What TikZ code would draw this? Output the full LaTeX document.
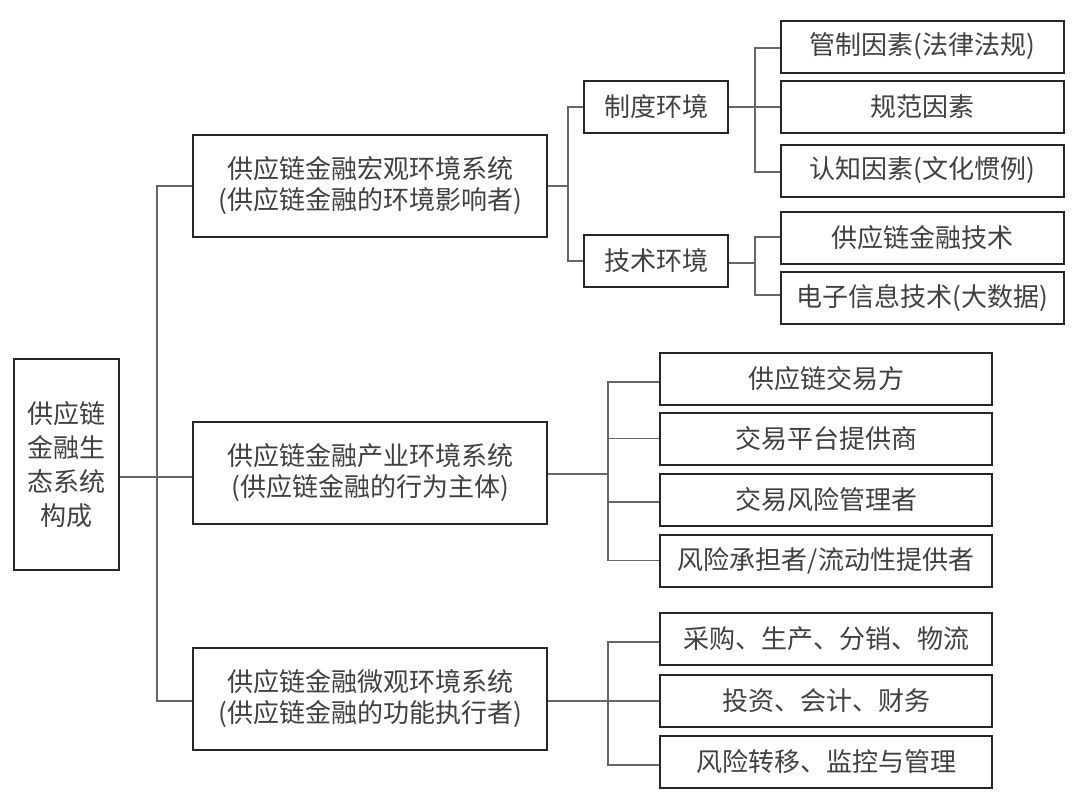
\documentclass[tikz,border=0pt]{standalone}
\usepackage{fontspec}
\newfontfamily\cjk{Noto Sans CJK SC}
\usetikzlibrary{positioning}

\begin{document}
\begin{tikzpicture}[x=1pt,y=-1pt,
every node/.style={draw=black!85,line width=2pt,inner sep=0pt,align=center,
  text=black!75,font=\cjk\fontsize{26}{31}\selectfont},
tbox/.style={minimum width=354pt,minimum height=102pt},
mbox/.style={minimum width=144pt,minimum height=52pt},
sbox/.style={minimum width=283pt,minimum height=52pt},
wbox/.style={minimum width=332pt,minimum height=52pt},
link/.style={draw=black!60,line width=1.3pt}]
\useasboundingbox (0,0) rectangle (1080,809);
% root
\node[minimum width=105pt,minimum height=211pt,font=\cjk\fontsize{26}{34}\selectfont] (R) at (66.5,464.5) {供应链\\金融生\\态系统\\构成};
% first level
\node[tbox] (M) at (370,186) {供应链金融宏观环境系统\\(供应链金融的环境影响者)};
\node[tbox] (I) at (370,473) {供应链金融产业环境系统\\(供应链金融的行为主体)};
\node[tbox] (F) at (370,699) {供应链金融微观环境系统\\(供应链金融的功能执行者)};
% macro environment
\node[mbox] (Z) at (656,107) {制度环境};
\node[mbox] (T) at (656,261) {技术环境};
\node[sbox] (Z1) at (922.5,46.5) {管制因素(法律法规)};
\node[sbox] (Z2) at (922.5,107) {规范因素};
\node[sbox] (Z3) at (922.5,170.5) {认知因素(文化惯例)};
\node[sbox] (T1) at (922.5,238) {供应链金融技术};
\node[sbox] (T2) at (922.5,298) {电子信息技术(大数据)};
% industry environment
\node[wbox] (I1) at (826,379) {供应链交易方};
\node[wbox] (I2) at (826,438.5) {交易平台提供商};
\node[wbox] (I3) at (826,500) {交易风险管理者};
\node[wbox] (I4) at (826,560.5) {风险承担者/流动性提供者};
% micro environment
\node[wbox] (F1) at (826,639) {采购、生产、分销、物流};
\node[wbox] (F2) at (826,701) {投资、会计、财务};
\node[wbox] (F3) at (826,761.5) {风险转移、监控与管理};
% buses
\coordinate (b0) at (157,477);
\coordinate (b1) at (568,186);
\coordinate (b2) at (755,107);
\coordinate (b3) at (755,263);
\coordinate (b4) at (608,474);
\coordinate (b5) at (608,701);
\draw[link] (R.east |- b0) -- (b0);
\draw[link] (b0) |- (M.west);
\draw[link] (b0) |- (I.west |- b0);
\draw[link] (b0) |- ([yshift=-2pt]F.west);
\draw[link] (M.east) -- (b1);
\draw[link] (b1) |- (Z.west);
\draw[link] (b1) |- (T.west);
\draw[link] (Z.east) -- (b2);
\draw[link] (b2) |- ([yshift=-1.5pt]Z1.west);
\draw[link] (b2) |- (Z2.west);
\draw[link] (b2) |- ([yshift=-1.5pt]Z3.west);
\draw[link] (T.east |- b3) -- (b3);
\draw[link] (b3) |- ([yshift=1pt]T1.west);
\draw[link] (b3) |- ([yshift=3pt]T2.west);
\draw[link] (I.east |- b4) -- (b4);
\draw[link] (b4) |- ([yshift=-3pt]I1.west);
\draw[link] (b4) |- (I2.west);
\draw[link] (b4) |- ([yshift=-2pt]I3.west);
\draw[link] (b4) |- (I4.west);
\draw[link] (F.east |- b5) -- (F2.west);
\draw[link] (b5) |- ([yshift=-3pt]F1.west);
\draw[link] (b5) |- ([yshift=-3.5pt]F3.west);
\end{tikzpicture}
\end{document}
